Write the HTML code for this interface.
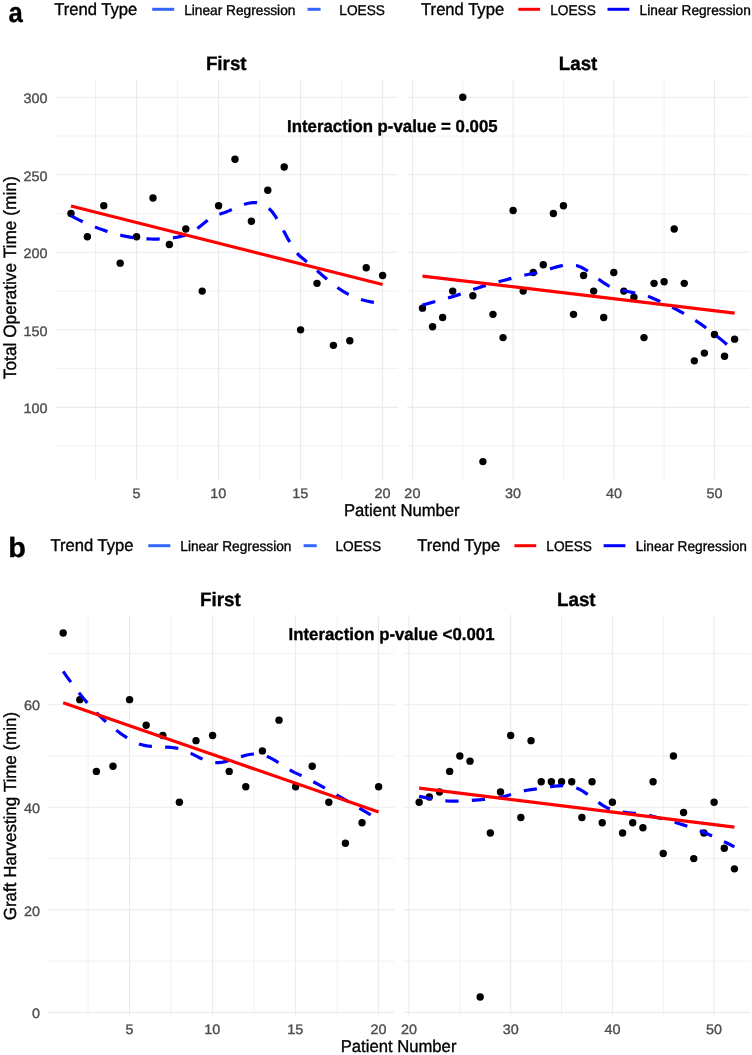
<!DOCTYPE html><html><head><meta charset="utf-8"><style>html,body{margin:0;padding:0;background:#fff;}svg{display:block;filter:blur(0.35px);}text{font-family:"Liberation Sans",Arial,sans-serif;text-rendering:geometricPrecision;}</style></head><body>
<svg width="752" height="1055" viewBox="0 0 752 1055">
<rect width="752" height="1055" fill="#fff"/>
<line x1="55.4" x2="398.2" y1="446.09" y2="446.09" stroke="#EBEBEB" stroke-width="0.7"/>
<line x1="55.4" x2="398.2" y1="368.58" y2="368.58" stroke="#EBEBEB" stroke-width="0.7"/>
<line x1="55.4" x2="398.2" y1="291.08" y2="291.08" stroke="#EBEBEB" stroke-width="0.7"/>
<line x1="55.4" x2="398.2" y1="213.57" y2="213.57" stroke="#EBEBEB" stroke-width="0.7"/>
<line x1="55.4" x2="398.2" y1="136.07" y2="136.07" stroke="#EBEBEB" stroke-width="0.7"/>
<line y1="79.1" y2="479.8" x1="95.58" x2="95.58" stroke="#EBEBEB" stroke-width="0.7"/>
<line y1="79.1" y2="479.8" x1="177.59" x2="177.59" stroke="#EBEBEB" stroke-width="0.7"/>
<line y1="79.1" y2="479.8" x1="259.6" x2="259.6" stroke="#EBEBEB" stroke-width="0.7"/>
<line y1="79.1" y2="479.8" x1="341.61" x2="341.61" stroke="#EBEBEB" stroke-width="0.7"/>
<line x1="55.4" x2="398.2" y1="407.33" y2="407.33" stroke="#EBEBEB" stroke-width="1.1"/>
<line x1="55.4" x2="398.2" y1="329.83" y2="329.83" stroke="#EBEBEB" stroke-width="1.1"/>
<line x1="55.4" x2="398.2" y1="252.32" y2="252.32" stroke="#EBEBEB" stroke-width="1.1"/>
<line x1="55.4" x2="398.2" y1="174.82" y2="174.82" stroke="#EBEBEB" stroke-width="1.1"/>
<line x1="55.4" x2="398.2" y1="97.31" y2="97.31" stroke="#EBEBEB" stroke-width="1.1"/>
<line y1="79.1" y2="479.8" x1="136.59" x2="136.59" stroke="#EBEBEB" stroke-width="1.1"/>
<line y1="79.1" y2="479.8" x1="218.6" x2="218.6" stroke="#EBEBEB" stroke-width="1.1"/>
<line y1="79.1" y2="479.8" x1="300.61" x2="300.61" stroke="#EBEBEB" stroke-width="1.1"/>
<line y1="79.1" y2="479.8" x1="382.62" x2="382.62" stroke="#EBEBEB" stroke-width="1.1"/>
<circle cx="70.98" cy="213.57" r="3.7"/>
<circle cx="87.38" cy="236.82" r="3.7"/>
<circle cx="103.79" cy="205.82" r="3.7"/>
<circle cx="120.19" cy="263.17" r="3.7"/>
<circle cx="136.59" cy="236.82" r="3.7"/>
<circle cx="152.99" cy="198.07" r="3.7"/>
<circle cx="169.39" cy="244.57" r="3.7"/>
<circle cx="185.8" cy="229.07" r="3.7"/>
<circle cx="202.2" cy="291.08" r="3.7"/>
<circle cx="218.6" cy="205.82" r="3.7"/>
<circle cx="235" cy="159.32" r="3.7"/>
<circle cx="251.4" cy="221.32" r="3.7"/>
<circle cx="267.8" cy="190.32" r="3.7"/>
<circle cx="284.21" cy="167.07" r="3.7"/>
<circle cx="300.61" cy="329.83" r="3.7"/>
<circle cx="317.01" cy="283.33" r="3.7"/>
<circle cx="333.41" cy="345.33" r="3.7"/>
<circle cx="349.81" cy="340.68" r="3.7"/>
<circle cx="366.22" cy="267.82" r="3.7"/>
<circle cx="382.62" cy="275.57" r="3.7"/>
<polyline points="70.98,215.7 74.93,217.83 78.87,219.85 82.82,221.76 86.76,223.56 90.71,225.27 94.65,226.87 98.6,228.38 102.54,229.8 106.48,231.13 110.43,232.38 114.37,233.54 118.32,234.61 122.26,235.57 126.21,236.41 130.15,237.13 134.1,237.72 138.04,238.16 141.99,238.52 145.93,238.79 149.88,238.97 153.82,239.05 157.77,239.03 161.71,238.9 165.66,238.64 169.6,238.26 173.55,237.74 177.49,237.08 181.44,236.27 185.38,235.31 189.32,233.85 193.27,231.55 197.21,228.67 201.16,225.47 205.1,222.23 209.05,219.2 212.99,216.65 216.94,214.84 220.88,213.77 224.83,212.45 228.77,210.86 232.72,209.12 236.66,207.36 240.61,205.7 244.55,204.28 248.5,203.21 252.44,202.62 256.39,202.63 260.33,203.38 264.28,204.98 268.22,207.56 272.16,211.73 276.11,217.45 280.05,224.22 284,231.54 287.94,238.89 291.89,245.77 295.83,251.68 299.78,256.1 303.72,259.27 307.67,262.55 311.61,265.92 315.56,269.36 319.5,272.8 323.45,276.22 327.39,279.57 331.34,282.8 335.28,285.86 339.23,288.73 343.17,291.34 347.12,293.66 351.06,295.65 355,297.35 358.95,298.8 362.89,300.02 366.84,301.04 370.78,301.86 374.73,302.52 378.67,303.02 382.62,303.4" fill="none" stroke="#0000FF" stroke-width="3.2" stroke-dasharray="13.27 13.27" stroke-linejoin="round"/>
<line x1="70.98" y1="205.98" x2="382.62" y2="284.57" stroke="#FF0000" stroke-width="3.2"/>
<line x1="406.9" x2="750.2" y1="446.09" y2="446.09" stroke="#EBEBEB" stroke-width="0.7"/>
<line x1="406.9" x2="750.2" y1="368.58" y2="368.58" stroke="#EBEBEB" stroke-width="0.7"/>
<line x1="406.9" x2="750.2" y1="291.08" y2="291.08" stroke="#EBEBEB" stroke-width="0.7"/>
<line x1="406.9" x2="750.2" y1="213.57" y2="213.57" stroke="#EBEBEB" stroke-width="0.7"/>
<line x1="406.9" x2="750.2" y1="136.07" y2="136.07" stroke="#EBEBEB" stroke-width="0.7"/>
<line y1="79.1" y2="479.8" x1="462.77" x2="462.77" stroke="#EBEBEB" stroke-width="0.7"/>
<line y1="79.1" y2="479.8" x1="563.45" x2="563.45" stroke="#EBEBEB" stroke-width="0.7"/>
<line y1="79.1" y2="479.8" x1="664.12" x2="664.12" stroke="#EBEBEB" stroke-width="0.7"/>
<line x1="406.9" x2="750.2" y1="407.33" y2="407.33" stroke="#EBEBEB" stroke-width="1.1"/>
<line x1="406.9" x2="750.2" y1="329.83" y2="329.83" stroke="#EBEBEB" stroke-width="1.1"/>
<line x1="406.9" x2="750.2" y1="252.32" y2="252.32" stroke="#EBEBEB" stroke-width="1.1"/>
<line x1="406.9" x2="750.2" y1="174.82" y2="174.82" stroke="#EBEBEB" stroke-width="1.1"/>
<line x1="406.9" x2="750.2" y1="97.31" y2="97.31" stroke="#EBEBEB" stroke-width="1.1"/>
<line y1="79.1" y2="479.8" x1="412.44" x2="412.44" stroke="#EBEBEB" stroke-width="1.1"/>
<line y1="79.1" y2="479.8" x1="513.11" x2="513.11" stroke="#EBEBEB" stroke-width="1.1"/>
<line y1="79.1" y2="479.8" x1="613.79" x2="613.79" stroke="#EBEBEB" stroke-width="1.1"/>
<line y1="79.1" y2="479.8" x1="714.46" x2="714.46" stroke="#EBEBEB" stroke-width="1.1"/>
<circle cx="422.5" cy="308.13" r="3.7"/>
<circle cx="432.57" cy="326.73" r="3.7"/>
<circle cx="442.64" cy="317.43" r="3.7"/>
<circle cx="452.71" cy="291.08" r="3.7"/>
<circle cx="462.77" cy="97.31" r="3.7"/>
<circle cx="472.84" cy="295.73" r="3.7"/>
<circle cx="482.91" cy="461.59" r="3.7"/>
<circle cx="492.98" cy="314.33" r="3.7"/>
<circle cx="503.04" cy="337.58" r="3.7"/>
<circle cx="513.11" cy="210.47" r="3.7"/>
<circle cx="523.18" cy="291.08" r="3.7"/>
<circle cx="533.25" cy="272.47" r="3.7"/>
<circle cx="543.31" cy="264.72" r="3.7"/>
<circle cx="553.38" cy="213.57" r="3.7"/>
<circle cx="563.45" cy="205.82" r="3.7"/>
<circle cx="573.52" cy="314.33" r="3.7"/>
<circle cx="583.58" cy="275.57" r="3.7"/>
<circle cx="593.65" cy="291.08" r="3.7"/>
<circle cx="603.72" cy="317.43" r="3.7"/>
<circle cx="613.79" cy="272.47" r="3.7"/>
<circle cx="623.85" cy="291.08" r="3.7"/>
<circle cx="633.92" cy="297.28" r="3.7"/>
<circle cx="643.99" cy="337.58" r="3.7"/>
<circle cx="654.06" cy="283.33" r="3.7"/>
<circle cx="664.12" cy="281.78" r="3.7"/>
<circle cx="674.19" cy="229.07" r="3.7"/>
<circle cx="684.26" cy="283.33" r="3.7"/>
<circle cx="694.33" cy="360.83" r="3.7"/>
<circle cx="704.39" cy="353.08" r="3.7"/>
<circle cx="714.46" cy="334.48" r="3.7"/>
<circle cx="724.53" cy="356.18" r="3.7"/>
<circle cx="734.6" cy="339.13" r="3.7"/>
<polyline points="422.5,305.14 426.46,304.01 430.41,302.91 434.36,301.83 438.31,300.76 442.26,299.67 446.21,298.55 450.16,297.39 454.11,296.16 458.06,294.87 462.01,293.51 465.96,292.13 469.91,290.73 473.86,289.33 477.81,287.96 481.76,286.64 485.71,285.38 489.66,284.21 493.61,283.14 497.56,282.09 501.51,281.03 505.47,279.96 509.42,278.9 513.37,277.87 517.32,276.87 521.27,275.93 525.22,275.05 529.17,274.24 533.12,273.53 537.07,272.74 541.02,271.71 544.97,270.52 548.92,269.25 552.87,268 556.82,266.84 560.77,265.85 564.72,265.13 568.67,264.75 572.62,264.8 576.57,265.46 580.53,266.91 584.48,269 588.43,271.57 592.38,274.44 596.33,277.44 600.28,280.43 604.23,283.21 608.18,285.64 612.13,287.54 616.08,288.83 620.03,289.87 623.98,290.76 627.93,291.55 631.88,292.31 635.83,293.09 639.78,293.96 643.73,294.97 647.68,296.19 651.63,297.67 655.59,299.45 659.54,301.29 663.49,303.15 667.44,305.03 671.39,306.96 675.34,308.94 679.29,311 683.24,313.14 687.19,315.39 691.14,317.76 695.09,320.26 699.04,322.89 702.99,325.63 706.94,328.47 710.89,331.42 714.84,334.48 718.79,337.63 722.74,340.88 726.69,344.22 730.64,347.66 734.6,351.19" fill="none" stroke="#0000FF" stroke-width="3.2" stroke-dasharray="13.27 13.27" stroke-linejoin="round"/>
<line x1="422.5" y1="276.04" x2="734.6" y2="313.09" stroke="#FF0000" stroke-width="3.2"/>
<text x="23.6" y="413.03" font-size="13.68" font-weight="normal" fill="#4D4D4D" stroke="#4D4D4D" stroke-width="0.35" textLength="24.03" lengthAdjust="spacingAndGlyphs">100</text>
<text x="23.6" y="335.53" font-size="13.68" font-weight="normal" fill="#4D4D4D" stroke="#4D4D4D" stroke-width="0.35" textLength="24.03" lengthAdjust="spacingAndGlyphs">150</text>
<text x="23.6" y="258.02" font-size="13.68" font-weight="normal" fill="#4D4D4D" stroke="#4D4D4D" stroke-width="0.35" textLength="24.03" lengthAdjust="spacingAndGlyphs">200</text>
<text x="23.6" y="180.52" font-size="13.68" font-weight="normal" fill="#4D4D4D" stroke="#4D4D4D" stroke-width="0.35" textLength="24.03" lengthAdjust="spacingAndGlyphs">250</text>
<text x="23.6" y="103.01" font-size="13.68" font-weight="normal" fill="#4D4D4D" stroke="#4D4D4D" stroke-width="0.35" textLength="24.03" lengthAdjust="spacingAndGlyphs">300</text>
<text x="132.59" y="498.2" font-size="13.68" font-weight="normal" fill="#4D4D4D" stroke="#4D4D4D" stroke-width="0.35" textLength="8.01" lengthAdjust="spacingAndGlyphs">5</text>
<text x="210.35" y="498.2" font-size="13.68" font-weight="normal" fill="#4D4D4D" stroke="#4D4D4D" stroke-width="0.35" textLength="16.02" lengthAdjust="spacingAndGlyphs">10</text>
<text x="292.36" y="498.2" font-size="13.68" font-weight="normal" fill="#4D4D4D" stroke="#4D4D4D" stroke-width="0.35" textLength="16.02" lengthAdjust="spacingAndGlyphs">15</text>
<text x="374.57" y="498.2" font-size="13.68" font-weight="normal" fill="#4D4D4D" stroke="#4D4D4D" stroke-width="0.35" textLength="16.02" lengthAdjust="spacingAndGlyphs">20</text>
<text x="404.39" y="498.2" font-size="13.68" font-weight="normal" fill="#4D4D4D" stroke="#4D4D4D" stroke-width="0.35" textLength="16.02" lengthAdjust="spacingAndGlyphs">20</text>
<text x="505.11" y="498.2" font-size="13.68" font-weight="normal" fill="#4D4D4D" stroke="#4D4D4D" stroke-width="0.35" textLength="16.02" lengthAdjust="spacingAndGlyphs">30</text>
<text x="605.94" y="498.2" font-size="13.68" font-weight="normal" fill="#4D4D4D" stroke="#4D4D4D" stroke-width="0.35" textLength="16.02" lengthAdjust="spacingAndGlyphs">40</text>
<text x="706.46" y="498.2" font-size="13.68" font-weight="normal" fill="#4D4D4D" stroke="#4D4D4D" stroke-width="0.35" textLength="16.02" lengthAdjust="spacingAndGlyphs">50</text>
<text x="205.9" y="70" font-size="19.36" font-weight="bold" fill="#000" stroke="#000" stroke-width="0.35" textLength="40.74" lengthAdjust="spacingAndGlyphs">First</text>
<text x="558.7" y="70" font-size="19.36" font-weight="bold" fill="#000" stroke="#000" stroke-width="0.35" textLength="38.66" lengthAdjust="spacingAndGlyphs">Last</text>
<text x="287.05" y="132" font-size="17.3" font-weight="bold" fill="#000" stroke="#000" stroke-width="0.35" textLength="210.55" lengthAdjust="spacingAndGlyphs">Interaction p-value = 0.005</text>
<text x="343.95" y="515.6" font-size="17.15" font-weight="normal" fill="#000" stroke="#000" stroke-width="0.35" textLength="115.68" lengthAdjust="spacingAndGlyphs">Patient Number</text>
<text transform="translate(15.6,379.2) rotate(-90)" font-size="17.82" fill="#000" stroke="#000" stroke-width="0.35" textLength="202.85" lengthAdjust="spacingAndGlyphs">Total Operative Time (min)</text>
<text x="8.54" y="21.6" font-size="27.81" font-weight="bold" fill="#000" stroke="#000" stroke-width="0.35" textLength="14.27" lengthAdjust="spacingAndGlyphs">a</text>
<text x="54.3" y="15" font-size="17.1" font-weight="normal" fill="#000" stroke="#000" stroke-width="0.35" textLength="83.05" lengthAdjust="spacingAndGlyphs">Trend Type</text>
<line x1="152.2" x2="174.2" y1="9.3" y2="9.3" stroke="#3366FF" stroke-width="3"/>
<text x="184.2" y="15" font-size="14.11" font-weight="normal" fill="#000" stroke="#000" stroke-width="0.35" textLength="111.19" lengthAdjust="spacingAndGlyphs">Linear Regression</text>
<line x1="307.5" x2="329.5" y1="9.3" y2="9.3" stroke="#3366FF" stroke-width="3" stroke-dasharray="13.1 13.1"/>
<text x="339.3" y="15" font-size="14.11" font-weight="normal" fill="#000" stroke="#000" stroke-width="0.35" textLength="45.69" lengthAdjust="spacingAndGlyphs">LOESS</text>
<text x="421.1" y="15" font-size="17.1" font-weight="normal" fill="#000" stroke="#000" stroke-width="0.35" textLength="83.05" lengthAdjust="spacingAndGlyphs">Trend Type</text>
<line x1="518.3" x2="540.1" y1="9.3" y2="9.3" stroke="#FF0000" stroke-width="3"/>
<text x="550.2" y="15" font-size="14.11" font-weight="normal" fill="#000" stroke="#000" stroke-width="0.35" textLength="45.69" lengthAdjust="spacingAndGlyphs">LOESS</text>
<line x1="607.5" x2="629.3" y1="9.3" y2="9.3" stroke="#0000FF" stroke-width="3"/>
<text x="639.6" y="15" font-size="14.11" font-weight="normal" fill="#000" stroke="#000" stroke-width="0.35" textLength="111.19" lengthAdjust="spacingAndGlyphs">Linear Regression</text>
<line x1="47.4" x2="394.4" y1="961.11" y2="961.11" stroke="#EBEBEB" stroke-width="0.7"/>
<line x1="47.4" x2="394.4" y1="858.58" y2="858.58" stroke="#EBEBEB" stroke-width="0.7"/>
<line x1="47.4" x2="394.4" y1="756.04" y2="756.04" stroke="#EBEBEB" stroke-width="0.7"/>
<line x1="47.4" x2="394.4" y1="653.51" y2="653.51" stroke="#EBEBEB" stroke-width="0.7"/>
<line y1="614.8" y2="1015.2" x1="88.08" x2="88.08" stroke="#EBEBEB" stroke-width="0.7"/>
<line y1="614.8" y2="1015.2" x1="171.09" x2="171.09" stroke="#EBEBEB" stroke-width="0.7"/>
<line y1="614.8" y2="1015.2" x1="254.11" x2="254.11" stroke="#EBEBEB" stroke-width="0.7"/>
<line y1="614.8" y2="1015.2" x1="337.12" x2="337.12" stroke="#EBEBEB" stroke-width="0.7"/>
<line x1="47.4" x2="394.4" y1="1012.38" y2="1012.38" stroke="#EBEBEB" stroke-width="1.1"/>
<line x1="47.4" x2="394.4" y1="909.85" y2="909.85" stroke="#EBEBEB" stroke-width="1.1"/>
<line x1="47.4" x2="394.4" y1="807.31" y2="807.31" stroke="#EBEBEB" stroke-width="1.1"/>
<line x1="47.4" x2="394.4" y1="704.77" y2="704.77" stroke="#EBEBEB" stroke-width="1.1"/>
<line y1="614.8" y2="1015.2" x1="129.58" x2="129.58" stroke="#EBEBEB" stroke-width="1.1"/>
<line y1="614.8" y2="1015.2" x1="212.6" x2="212.6" stroke="#EBEBEB" stroke-width="1.1"/>
<line y1="614.8" y2="1015.2" x1="295.61" x2="295.61" stroke="#EBEBEB" stroke-width="1.1"/>
<line y1="614.8" y2="1015.2" x1="378.63" x2="378.63" stroke="#EBEBEB" stroke-width="1.1"/>
<circle cx="63.17" cy="633" r="3.7"/>
<circle cx="79.78" cy="699.65" r="3.7"/>
<circle cx="96.38" cy="771.42" r="3.7"/>
<circle cx="112.98" cy="766.3" r="3.7"/>
<circle cx="129.58" cy="699.65" r="3.7"/>
<circle cx="146.19" cy="725.28" r="3.7"/>
<circle cx="162.79" cy="735.54" r="3.7"/>
<circle cx="179.39" cy="802.18" r="3.7"/>
<circle cx="196" cy="740.66" r="3.7"/>
<circle cx="212.6" cy="735.54" r="3.7"/>
<circle cx="229.2" cy="771.42" r="3.7"/>
<circle cx="245.8" cy="786.8" r="3.7"/>
<circle cx="262.41" cy="750.92" r="3.7"/>
<circle cx="279.01" cy="720.15" r="3.7"/>
<circle cx="295.61" cy="786.8" r="3.7"/>
<circle cx="312.22" cy="766.3" r="3.7"/>
<circle cx="328.82" cy="802.18" r="3.7"/>
<circle cx="345.42" cy="843.2" r="3.7"/>
<circle cx="362.02" cy="822.69" r="3.7"/>
<circle cx="378.63" cy="786.8" r="3.7"/>
<polyline points="63.17,671.37 67.17,677.08 71.16,682.59 75.15,687.91 79.15,693.02 83.14,697.93 87.13,702.62 91.12,707.1 95.12,711.36 99.11,715.39 103.1,719.19 107.1,722.77 111.09,726.15 115.08,729.34 119.08,732.34 123.07,735.18 127.06,737.87 131.06,740.38 135.05,742.42 139.04,743.96 143.03,745.08 147.03,745.85 151.02,746.36 155.01,746.67 159.01,746.86 163,747.01 166.99,747.18 170.99,747.47 174.98,747.93 178.97,748.65 182.97,749.79 186.96,751.39 190.95,753.3 194.94,755.37 198.94,757.44 202.93,759.36 206.92,760.97 210.92,762.11 214.91,762.64 218.9,762.59 222.9,762.07 226.89,761.17 230.88,760.02 234.88,758.72 238.87,757.39 242.86,756.13 246.86,755.05 250.85,754.27 254.84,753.89 258.83,754.03 262.83,754.79 266.82,756.2 270.81,758.1 274.81,760.38 278.8,762.89 282.79,765.5 286.79,768.08 290.78,770.48 294.77,772.58 298.77,774.42 302.76,776.34 306.75,778.34 310.74,780.4 314.74,782.53 318.73,784.71 322.72,786.94 326.72,789.19 330.71,791.48 334.7,793.78 338.7,796.1 342.69,798.41 346.68,800.71 350.68,803.03 354.67,805.35 358.66,807.69 362.65,810.05 366.65,812.44 370.64,814.84 374.63,817.28 378.63,819.75" fill="none" stroke="#0000FF" stroke-width="3.2" stroke-dasharray="13.27 13.27" stroke-linejoin="round"/>
<line x1="63.17" y1="702.65" x2="378.63" y2="812" stroke="#FF0000" stroke-width="3.2"/>
<line x1="403.4" x2="750.2" y1="961.11" y2="961.11" stroke="#EBEBEB" stroke-width="0.7"/>
<line x1="403.4" x2="750.2" y1="858.58" y2="858.58" stroke="#EBEBEB" stroke-width="0.7"/>
<line x1="403.4" x2="750.2" y1="756.04" y2="756.04" stroke="#EBEBEB" stroke-width="0.7"/>
<line x1="403.4" x2="750.2" y1="653.51" y2="653.51" stroke="#EBEBEB" stroke-width="0.7"/>
<line y1="614.8" y2="1015.2" x1="459.84" x2="459.84" stroke="#EBEBEB" stroke-width="0.7"/>
<line y1="614.8" y2="1015.2" x1="561.54" x2="561.54" stroke="#EBEBEB" stroke-width="0.7"/>
<line y1="614.8" y2="1015.2" x1="663.25" x2="663.25" stroke="#EBEBEB" stroke-width="0.7"/>
<line x1="403.4" x2="750.2" y1="1012.38" y2="1012.38" stroke="#EBEBEB" stroke-width="1.1"/>
<line x1="403.4" x2="750.2" y1="909.85" y2="909.85" stroke="#EBEBEB" stroke-width="1.1"/>
<line x1="403.4" x2="750.2" y1="807.31" y2="807.31" stroke="#EBEBEB" stroke-width="1.1"/>
<line x1="403.4" x2="750.2" y1="704.77" y2="704.77" stroke="#EBEBEB" stroke-width="1.1"/>
<line y1="614.8" y2="1015.2" x1="408.99" x2="408.99" stroke="#EBEBEB" stroke-width="1.1"/>
<line y1="614.8" y2="1015.2" x1="510.69" x2="510.69" stroke="#EBEBEB" stroke-width="1.1"/>
<line y1="614.8" y2="1015.2" x1="612.4" x2="612.4" stroke="#EBEBEB" stroke-width="1.1"/>
<line y1="614.8" y2="1015.2" x1="714.1" x2="714.1" stroke="#EBEBEB" stroke-width="1.1"/>
<circle cx="419.16" cy="802.18" r="3.7"/>
<circle cx="429.33" cy="797.06" r="3.7"/>
<circle cx="439.5" cy="791.93" r="3.7"/>
<circle cx="449.67" cy="771.42" r="3.7"/>
<circle cx="459.84" cy="756.04" r="3.7"/>
<circle cx="470.01" cy="761.17" r="3.7"/>
<circle cx="480.18" cy="997" r="3.7"/>
<circle cx="490.35" cy="832.94" r="3.7"/>
<circle cx="500.52" cy="791.93" r="3.7"/>
<circle cx="510.69" cy="735.54" r="3.7"/>
<circle cx="520.86" cy="817.56" r="3.7"/>
<circle cx="531.03" cy="740.66" r="3.7"/>
<circle cx="541.2" cy="781.68" r="3.7"/>
<circle cx="551.37" cy="781.68" r="3.7"/>
<circle cx="561.54" cy="781.68" r="3.7"/>
<circle cx="571.71" cy="781.68" r="3.7"/>
<circle cx="581.89" cy="817.56" r="3.7"/>
<circle cx="592.06" cy="781.68" r="3.7"/>
<circle cx="602.23" cy="822.69" r="3.7"/>
<circle cx="612.4" cy="802.18" r="3.7"/>
<circle cx="622.57" cy="832.94" r="3.7"/>
<circle cx="632.74" cy="822.69" r="3.7"/>
<circle cx="642.91" cy="827.82" r="3.7"/>
<circle cx="653.08" cy="781.68" r="3.7"/>
<circle cx="663.25" cy="853.45" r="3.7"/>
<circle cx="673.42" cy="756.04" r="3.7"/>
<circle cx="683.59" cy="812.44" r="3.7"/>
<circle cx="693.76" cy="858.58" r="3.7"/>
<circle cx="703.93" cy="832.94" r="3.7"/>
<circle cx="714.1" cy="802.18" r="3.7"/>
<circle cx="724.27" cy="848.32" r="3.7"/>
<circle cx="734.44" cy="868.83" r="3.7"/>
<polyline points="419.16,796.33 423.15,797.17 427.15,797.99 431.14,798.75 435.13,799.44 439.12,800.04 443.11,800.53 447.1,800.9 451.09,801.12 455.08,801.19 459.07,801.15 463.06,801 467.05,800.78 471.04,800.49 475.03,800.17 479.03,799.82 483.02,799.48 487.01,799.17 491,798.9 494.99,798.44 498.98,797.7 502.97,796.76 506.96,795.68 510.95,794.51 514.94,793.32 518.93,792.17 522.92,791.12 526.92,790.24 530.91,789.59 534.9,789.04 538.89,788.41 542.88,787.75 546.87,787.11 550.86,786.54 554.85,786.08 558.84,785.78 562.83,785.69 566.82,785.86 570.81,786.33 574.8,787.28 578.8,788.94 582.79,791.18 586.78,793.84 590.77,796.74 594.76,799.74 598.75,802.67 602.74,805.37 606.73,807.68 610.72,809.44 614.71,810.59 618.7,811.44 622.69,812.08 626.68,812.58 630.68,813 634.67,813.38 638.66,813.79 642.65,814.29 646.64,814.93 650.63,815.77 654.62,816.84 658.61,817.94 662.6,819.02 666.59,820.09 670.58,821.17 674.57,822.28 678.57,823.43 682.56,824.63 686.55,825.9 690.54,827.26 694.53,828.71 698.52,830.25 702.51,831.85 706.5,833.52 710.49,835.25 714.48,837.05 718.47,838.9 722.46,840.8 726.45,842.76 730.45,844.77 734.44,846.82" fill="none" stroke="#0000FF" stroke-width="3.2" stroke-dasharray="13.27 13.27" stroke-linejoin="round"/>
<line x1="419.16" y1="788.06" x2="734.44" y2="827.21" stroke="#FF0000" stroke-width="3.2"/>
<text x="32.1" y="1018.08" font-size="13.68" font-weight="normal" fill="#4D4D4D" stroke="#4D4D4D" stroke-width="0.35" textLength="8.01" lengthAdjust="spacingAndGlyphs">0</text>
<text x="24.1" y="915.55" font-size="13.68" font-weight="normal" fill="#4D4D4D" stroke="#4D4D4D" stroke-width="0.35" textLength="16.02" lengthAdjust="spacingAndGlyphs">20</text>
<text x="24.1" y="813.01" font-size="13.68" font-weight="normal" fill="#4D4D4D" stroke="#4D4D4D" stroke-width="0.35" textLength="16.02" lengthAdjust="spacingAndGlyphs">40</text>
<text x="24.1" y="710.47" font-size="13.68" font-weight="normal" fill="#4D4D4D" stroke="#4D4D4D" stroke-width="0.35" textLength="16.02" lengthAdjust="spacingAndGlyphs">60</text>
<text x="125.58" y="1034.3" font-size="13.68" font-weight="normal" fill="#4D4D4D" stroke="#4D4D4D" stroke-width="0.35" textLength="8.01" lengthAdjust="spacingAndGlyphs">5</text>
<text x="204.35" y="1034.3" font-size="13.68" font-weight="normal" fill="#4D4D4D" stroke="#4D4D4D" stroke-width="0.35" textLength="16.02" lengthAdjust="spacingAndGlyphs">10</text>
<text x="287.36" y="1034.3" font-size="13.68" font-weight="normal" fill="#4D4D4D" stroke="#4D4D4D" stroke-width="0.35" textLength="16.02" lengthAdjust="spacingAndGlyphs">15</text>
<text x="370.58" y="1034.3" font-size="13.68" font-weight="normal" fill="#4D4D4D" stroke="#4D4D4D" stroke-width="0.35" textLength="16.02" lengthAdjust="spacingAndGlyphs">20</text>
<text x="400.94" y="1034.3" font-size="13.68" font-weight="normal" fill="#4D4D4D" stroke="#4D4D4D" stroke-width="0.35" textLength="16.02" lengthAdjust="spacingAndGlyphs">20</text>
<text x="502.69" y="1034.3" font-size="13.68" font-weight="normal" fill="#4D4D4D" stroke="#4D4D4D" stroke-width="0.35" textLength="16.02" lengthAdjust="spacingAndGlyphs">30</text>
<text x="604.55" y="1034.3" font-size="13.68" font-weight="normal" fill="#4D4D4D" stroke="#4D4D4D" stroke-width="0.35" textLength="16.02" lengthAdjust="spacingAndGlyphs">40</text>
<text x="706.1" y="1034.3" font-size="13.68" font-weight="normal" fill="#4D4D4D" stroke="#4D4D4D" stroke-width="0.35" textLength="16.02" lengthAdjust="spacingAndGlyphs">50</text>
<text x="200" y="605.9" font-size="19.36" font-weight="bold" fill="#000" stroke="#000" stroke-width="0.35" textLength="40.74" lengthAdjust="spacingAndGlyphs">First</text>
<text x="556.95" y="605.9" font-size="19.36" font-weight="bold" fill="#000" stroke="#000" stroke-width="0.35" textLength="38.66" lengthAdjust="spacingAndGlyphs">Last</text>
<text x="288.6" y="639.6" font-size="17.3" font-weight="bold" fill="#000" stroke="#000" stroke-width="0.35" textLength="205.88" lengthAdjust="spacingAndGlyphs">Interaction p-value &lt;0.001</text>
<text x="340.75" y="1051.9" font-size="17.15" font-weight="normal" fill="#000" stroke="#000" stroke-width="0.35" textLength="115.68" lengthAdjust="spacingAndGlyphs">Patient Number</text>
<text transform="translate(15.5,920.3) rotate(-90)" font-size="17.48" fill="#000" stroke="#000" stroke-width="0.35" textLength="208.4" lengthAdjust="spacingAndGlyphs">Graft Harvesting Time (min)</text>
<text x="8.37" y="557.3" font-size="27.81" font-weight="bold" fill="#000" stroke="#000" stroke-width="0.35" textLength="17.65" lengthAdjust="spacingAndGlyphs">b</text>
<text x="50.4" y="551.4" font-size="17.1" font-weight="normal" fill="#000" stroke="#000" stroke-width="0.35" textLength="83.05" lengthAdjust="spacingAndGlyphs">Trend Type</text>
<line x1="148.3" x2="170.3" y1="545.7" y2="545.7" stroke="#3366FF" stroke-width="3"/>
<text x="180.3" y="551.4" font-size="14.11" font-weight="normal" fill="#000" stroke="#000" stroke-width="0.35" textLength="111.19" lengthAdjust="spacingAndGlyphs">Linear Regression</text>
<line x1="303.6" x2="325.6" y1="545.7" y2="545.7" stroke="#3366FF" stroke-width="3" stroke-dasharray="13.1 13.1"/>
<text x="335.4" y="551.4" font-size="14.11" font-weight="normal" fill="#000" stroke="#000" stroke-width="0.35" textLength="45.69" lengthAdjust="spacingAndGlyphs">LOESS</text>
<text x="417.2" y="551.4" font-size="17.1" font-weight="normal" fill="#000" stroke="#000" stroke-width="0.35" textLength="83.05" lengthAdjust="spacingAndGlyphs">Trend Type</text>
<line x1="514.4" x2="536.2" y1="545.7" y2="545.7" stroke="#FF0000" stroke-width="3"/>
<text x="546.3" y="551.4" font-size="14.11" font-weight="normal" fill="#000" stroke="#000" stroke-width="0.35" textLength="45.69" lengthAdjust="spacingAndGlyphs">LOESS</text>
<line x1="603.6" x2="625.4" y1="545.7" y2="545.7" stroke="#0000FF" stroke-width="3"/>
<text x="635.7" y="551.4" font-size="14.11" font-weight="normal" fill="#000" stroke="#000" stroke-width="0.35" textLength="111.19" lengthAdjust="spacingAndGlyphs">Linear Regression</text>
</svg></body></html>
